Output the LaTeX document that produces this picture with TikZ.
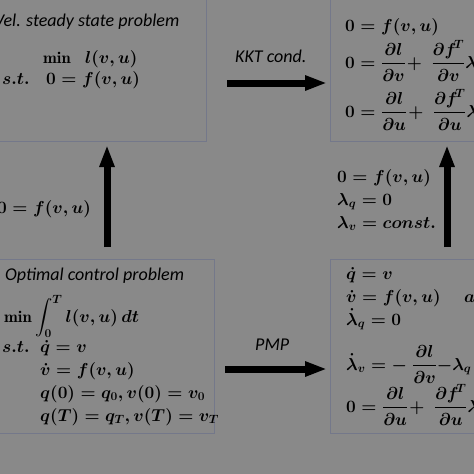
\documentclass[tikz,border=0pt]{standalone}
\usepackage{amsmath}
\usepackage{fontspec}
\newfontfamily\calib{Carlito}
\usetikzlibrary{arrows.meta}
\definecolor{bg}{RGB}{137,137,137}
\definecolor{frame}{RGB}{116,120,138}

\begin{document}
\begin{tikzpicture}[x=1pt,y=-1pt,
  box/.style={draw=frame,line width=1pt},
  flow/.style={line width=7pt,-{Triangle[length=22pt,width=14pt]}},
  lbl/.style={font=\fontsize{18}{20}\selectfont\calib\itshape,inner sep=0pt},
  eq/.style={font=\fontsize{16.5}{23}\selectfont\boldmath,inner sep=0pt,anchor=base west,align=left}]

  \useasboundingbox (0,0) rectangle (474,474);
  \clip (0,0) rectangle (474,474);
  \fill[bg] (0,0) rectangle (474,474);

  % the four problem boxes
  \draw[box] (-2,-2) rectangle (206,141);
  \draw[box] (330,-2) rectangle (480,141);
  \draw[box] (-2,259) rectangle (214,433);
  \draw[box] (330,259) rectangle (480,433);

  % steady state problem
  \node[lbl,anchor=base west] (steadyT) at (-6,26) {Vel. steady state problem};
  \node[eq] (steadyMin) at (43,63) {$\min$};
  \node[eq] (steadyObj) at (85,63) {$l(v,u)$};
  \node[eq] (steadySt) at (2,84) {$s.t.$};
  \node[eq] (steadyCon) at (46,84) {$0=f(v,u)$};

  % KKT conditions
  \node[eq] (kkt1) at (345,31) {$0=f(v,u)$};
  \node[eq] (kkt2) at (345,68) {$0=\dfrac{\partial l}{\partial v}\!+\ \dfrac{\partial f^{\!T}}{\partial v}\lambda$};
  \node[eq] (kkt3) at (345,117) {$0=\dfrac{\partial l}{\partial u}\!+\ \dfrac{\partial f^{\!T}}{\partial u}\lambda$};

  % optimal control problem (multi-line nodes sit on their last baseline)
  \node[lbl,anchor=base west] (ocpT) at (5,280) {Optimal control problem};
  \node[eq] (ocpMin) at (4,322) {$\min\displaystyle\int_0^T l(v,u)\,dt$};
  \node[eq] (ocpSt) at (2,352) {$s.t.$};
  \node[eq] (ocpCon) at (40,421) {$\dot q=v$\\$\dot v=f(v,u)$\\$q(0)=q_0,v(0)=v_0$\\$q(T)=q_T,v(T)=v_T$};

  % PMP conditions
  \node[eq] (pmpOde) at (346,325) {$\dot q=v$\\$\dot v=f(v,u)$\\$\dot\lambda_q=0$};
  \node[eq] (pmpCut) at (464,302) {$a$};
  \node[eq] (pmpAdj) at (346,370) {$\dot\lambda_v=-\ \dfrac{\partial l}{\partial v}{-}\lambda_q$};
  \node[eq] (pmpOpt) at (346,412) {$0=\dfrac{\partial l}{\partial u}\!+\ \dfrac{\partial f^{\!T}}{\partial u}\lambda$};

  % arrows
  \coordinate (kktA) at (227,83);
  \coordinate (kktB) at (327,83);
  \coordinate (pmpA) at (225,369);
  \coordinate (pmpB) at (327,369);
  \coordinate (leftA) at (107,247);
  \coordinate (leftB) at (107,145);
  \coordinate (rightA) at (447,247);
  \coordinate (rightB) at (447,145);
  \draw[flow] (kktA) -- (kktB);
  \draw[flow] (pmpA) -- (pmpB);
  \draw[flow] (leftA) -- (leftB);
  \draw[flow] (rightA) -- (rightB);

  \node[lbl,anchor=base west] (kktL) at (235,62) {KKT cond.};
  \node[lbl,anchor=base west] (pmpL) at (255,350) {PMP};
  \node[eq] (leftL) at (-3,213) {$0=f(v,u)$};
  \node[eq] (rightL) at (337,228) {$0=f(v,u)$\\$\lambda_q=0$\\$\lambda_v=const.$};

\end{tikzpicture}
\end{document}
